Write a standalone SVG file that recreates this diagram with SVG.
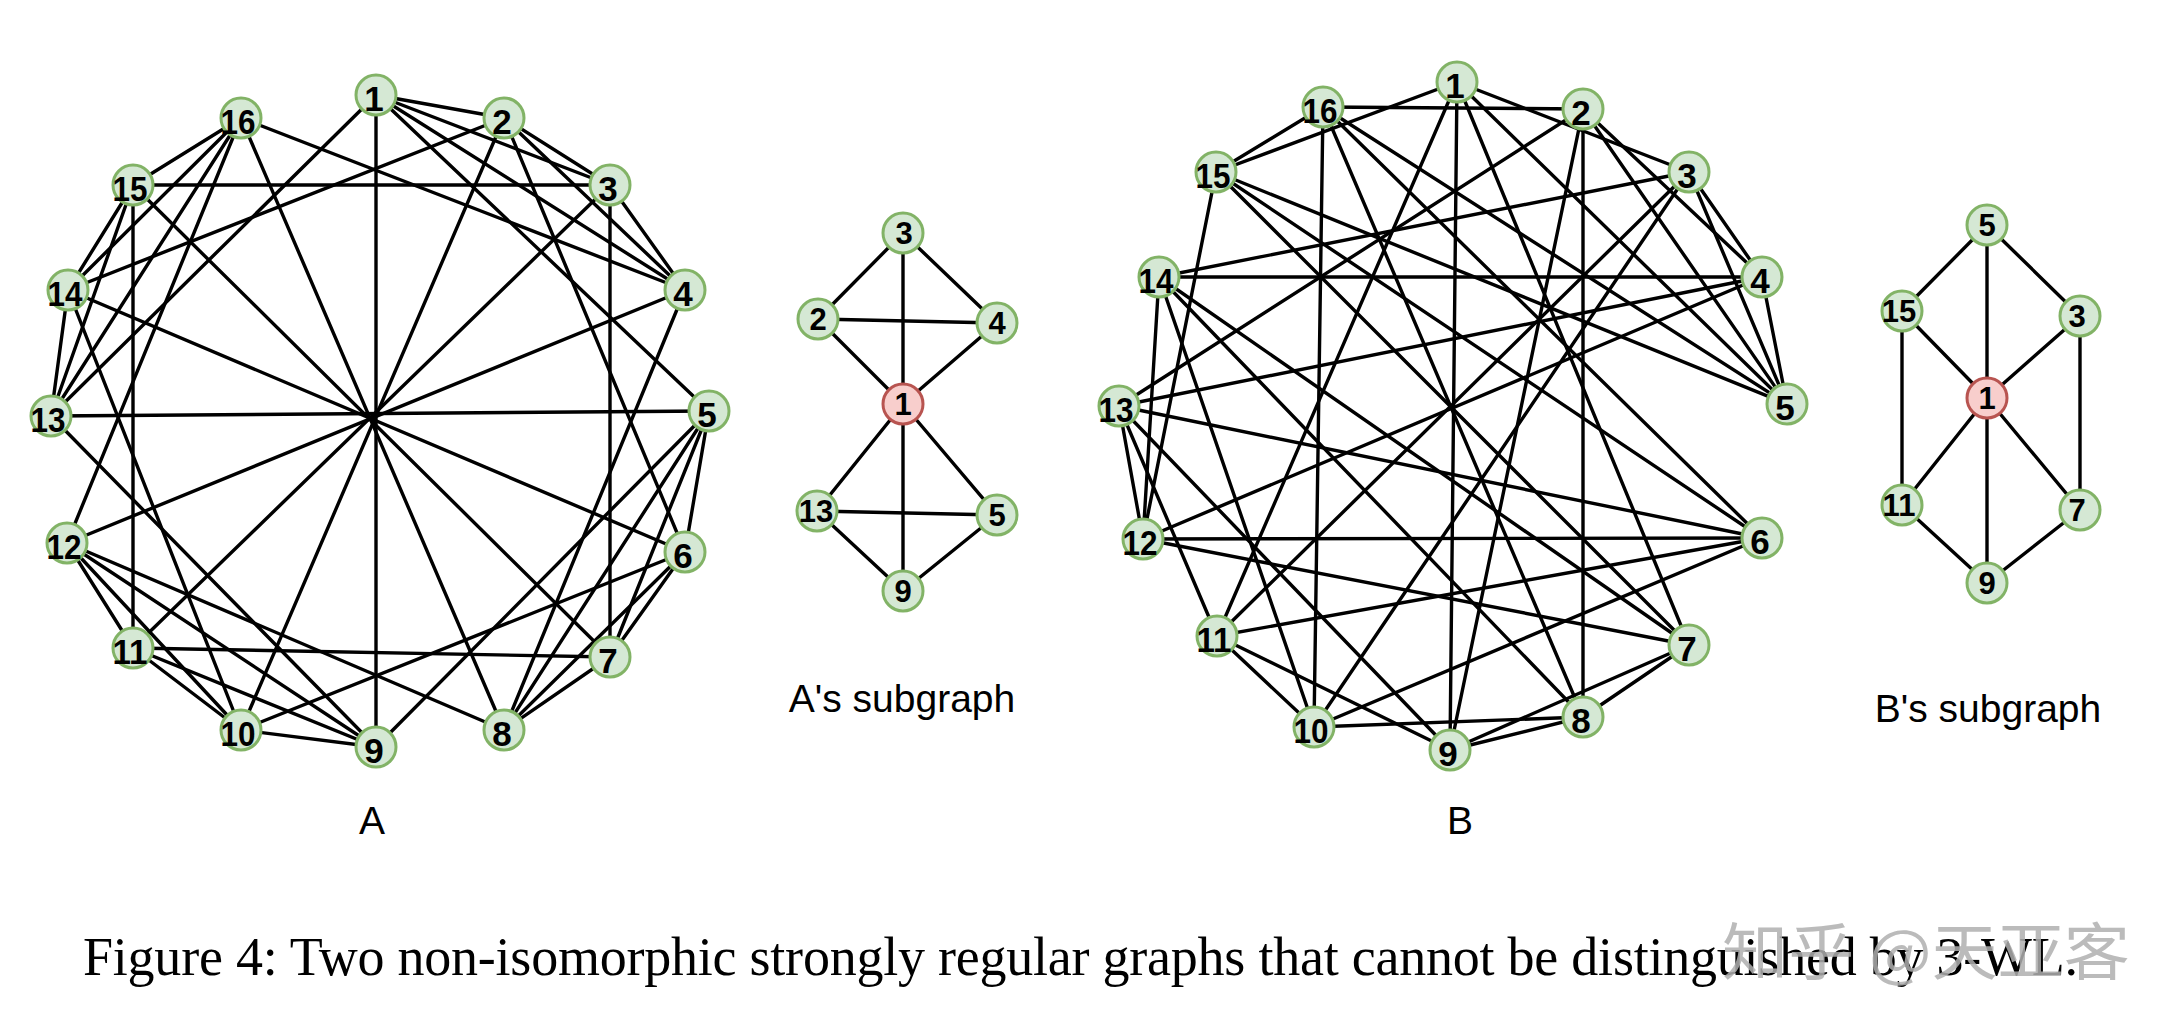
<svg xmlns="http://www.w3.org/2000/svg" width="2180" height="1036" viewBox="0 0 2180 1036">
<style>
.e{stroke:#000;stroke-width:3.4;fill:none;stroke-linecap:round}
.n circle{fill:#d5e8d4;stroke:#82b366;stroke-width:3}
.n.red circle{fill:#f8cecc;stroke:#b85450}
.n text{font-family:"Liberation Sans",Arial,sans-serif;font-weight:bold;font-size:35px;text-anchor:middle;fill:#000}
.s text{font-size:31px}
.lab{font-family:"Liberation Sans",Arial,sans-serif;font-size:39px;text-anchor:middle;fill:#000}
.cap{font-family:"Liberation Serif","Times New Roman",serif;font-size:54px;fill:#000}
.wm{font-family:"Noto Sans CJK SC","Liberation Sans",sans-serif;font-size:62px;fill:#b0b0b0;opacity:0.85}
</style>
<rect width="2180" height="1036" fill="#fff"/>
<g id="edges-A">
<line class="e" x1="376" y1="95" x2="504" y2="118"/>
<line class="e" x1="376" y1="95" x2="610" y2="185"/>
<line class="e" x1="376" y1="95" x2="685" y2="290"/>
<line class="e" x1="504" y1="118" x2="610" y2="185"/>
<line class="e" x1="504" y1="118" x2="685" y2="290"/>
<line class="e" x1="610" y1="185" x2="685" y2="290"/>
<line class="e" x1="709" y1="411" x2="685" y2="552"/>
<line class="e" x1="709" y1="411" x2="610" y2="657"/>
<line class="e" x1="709" y1="411" x2="504" y2="730"/>
<line class="e" x1="685" y1="552" x2="610" y2="657"/>
<line class="e" x1="685" y1="552" x2="504" y2="730"/>
<line class="e" x1="610" y1="657" x2="504" y2="730"/>
<line class="e" x1="376" y1="747" x2="241" y2="730"/>
<line class="e" x1="376" y1="747" x2="133" y2="648"/>
<line class="e" x1="376" y1="747" x2="67" y2="543"/>
<line class="e" x1="241" y1="730" x2="133" y2="648"/>
<line class="e" x1="241" y1="730" x2="67" y2="543"/>
<line class="e" x1="133" y1="648" x2="67" y2="543"/>
<line class="e" x1="51" y1="416" x2="68" y2="290"/>
<line class="e" x1="51" y1="416" x2="133" y2="185"/>
<line class="e" x1="51" y1="416" x2="241" y2="118"/>
<line class="e" x1="68" y1="290" x2="133" y2="185"/>
<line class="e" x1="68" y1="290" x2="241" y2="118"/>
<line class="e" x1="133" y1="185" x2="241" y2="118"/>
<line class="e" x1="376" y1="95" x2="709" y2="411"/>
<line class="e" x1="376" y1="95" x2="376" y2="747"/>
<line class="e" x1="376" y1="95" x2="51" y2="416"/>
<line class="e" x1="709" y1="411" x2="376" y2="747"/>
<line class="e" x1="709" y1="411" x2="51" y2="416"/>
<line class="e" x1="376" y1="747" x2="51" y2="416"/>
<line class="e" x1="504" y1="118" x2="685" y2="552"/>
<line class="e" x1="504" y1="118" x2="241" y2="730"/>
<line class="e" x1="504" y1="118" x2="68" y2="290"/>
<line class="e" x1="685" y1="552" x2="241" y2="730"/>
<line class="e" x1="685" y1="552" x2="68" y2="290"/>
<line class="e" x1="241" y1="730" x2="68" y2="290"/>
<line class="e" x1="610" y1="185" x2="610" y2="657"/>
<line class="e" x1="610" y1="185" x2="133" y2="648"/>
<line class="e" x1="610" y1="185" x2="133" y2="185"/>
<line class="e" x1="610" y1="657" x2="133" y2="648"/>
<line class="e" x1="610" y1="657" x2="133" y2="185"/>
<line class="e" x1="133" y1="648" x2="133" y2="185"/>
<line class="e" x1="685" y1="290" x2="504" y2="730"/>
<line class="e" x1="685" y1="290" x2="67" y2="543"/>
<line class="e" x1="685" y1="290" x2="241" y2="118"/>
<line class="e" x1="504" y1="730" x2="67" y2="543"/>
<line class="e" x1="504" y1="730" x2="241" y2="118"/>
<line class="e" x1="67" y1="543" x2="241" y2="118"/>
</g>
<g id="edges-Asub">
<line class="e" x1="903" y1="233" x2="818" y2="319"/>
<line class="e" x1="903" y1="233" x2="997" y2="323"/>
<line class="e" x1="903" y1="233" x2="903" y2="404"/>
<line class="e" x1="818" y1="319" x2="997" y2="323"/>
<line class="e" x1="818" y1="319" x2="903" y2="404"/>
<line class="e" x1="997" y1="323" x2="903" y2="404"/>
<line class="e" x1="903" y1="404" x2="817" y2="511"/>
<line class="e" x1="903" y1="404" x2="997" y2="515"/>
<line class="e" x1="903" y1="404" x2="903" y2="591"/>
<line class="e" x1="817" y1="511" x2="997" y2="515"/>
<line class="e" x1="817" y1="511" x2="903" y2="591"/>
<line class="e" x1="997" y1="515" x2="903" y2="591"/>
</g>
<g id="edges-B">
<line class="e" x1="1457" y1="82" x2="1216" y2="172"/>
<line class="e" x1="1457" y1="82" x2="1689" y2="172"/>
<line class="e" x1="1457" y1="82" x2="1450" y2="750"/>
<line class="e" x1="1457" y1="82" x2="1787" y2="404"/>
<line class="e" x1="1457" y1="82" x2="1689" y2="645"/>
<line class="e" x1="1457" y1="82" x2="1217" y2="636"/>
<line class="e" x1="1583" y1="109" x2="1323" y2="107"/>
<line class="e" x1="1583" y1="109" x2="1119" y2="406"/>
<line class="e" x1="1583" y1="109" x2="1450" y2="750"/>
<line class="e" x1="1583" y1="109" x2="1583" y2="717"/>
<line class="e" x1="1583" y1="109" x2="1762" y2="277"/>
<line class="e" x1="1583" y1="109" x2="1787" y2="404"/>
<line class="e" x1="1689" y1="172" x2="1762" y2="277"/>
<line class="e" x1="1689" y1="172" x2="1787" y2="404"/>
<line class="e" x1="1689" y1="172" x2="1159" y2="277"/>
<line class="e" x1="1689" y1="172" x2="1217" y2="636"/>
<line class="e" x1="1689" y1="172" x2="1314" y2="727"/>
<line class="e" x1="1762" y1="277" x2="1787" y2="404"/>
<line class="e" x1="1762" y1="277" x2="1159" y2="277"/>
<line class="e" x1="1762" y1="277" x2="1119" y2="406"/>
<line class="e" x1="1762" y1="277" x2="1143" y2="539"/>
<line class="e" x1="1787" y1="404" x2="1323" y2="107"/>
<line class="e" x1="1787" y1="404" x2="1216" y2="172"/>
<line class="e" x1="1762" y1="538" x2="1323" y2="107"/>
<line class="e" x1="1762" y1="538" x2="1216" y2="172"/>
<line class="e" x1="1762" y1="538" x2="1119" y2="406"/>
<line class="e" x1="1762" y1="538" x2="1143" y2="539"/>
<line class="e" x1="1762" y1="538" x2="1217" y2="636"/>
<line class="e" x1="1762" y1="538" x2="1314" y2="727"/>
<line class="e" x1="1689" y1="645" x2="1216" y2="172"/>
<line class="e" x1="1689" y1="645" x2="1143" y2="539"/>
<line class="e" x1="1689" y1="645" x2="1159" y2="277"/>
<line class="e" x1="1689" y1="645" x2="1450" y2="750"/>
<line class="e" x1="1689" y1="645" x2="1583" y2="717"/>
<line class="e" x1="1583" y1="717" x2="1323" y2="107"/>
<line class="e" x1="1583" y1="717" x2="1159" y2="277"/>
<line class="e" x1="1583" y1="717" x2="1450" y2="750"/>
<line class="e" x1="1583" y1="717" x2="1314" y2="727"/>
<line class="e" x1="1450" y1="750" x2="1217" y2="636"/>
<line class="e" x1="1450" y1="750" x2="1119" y2="406"/>
<line class="e" x1="1314" y1="727" x2="1323" y2="107"/>
<line class="e" x1="1314" y1="727" x2="1159" y2="277"/>
<line class="e" x1="1314" y1="727" x2="1217" y2="636"/>
<line class="e" x1="1217" y1="636" x2="1119" y2="406"/>
<line class="e" x1="1143" y1="539" x2="1119" y2="406"/>
<line class="e" x1="1143" y1="539" x2="1159" y2="277"/>
<line class="e" x1="1143" y1="539" x2="1216" y2="172"/>
<line class="e" x1="1216" y1="172" x2="1323" y2="107"/>
</g>
<g id="edges-Bsub">
<line class="e" x1="1987" y1="225" x2="1902" y2="311"/>
<line class="e" x1="1987" y1="225" x2="2080" y2="316"/>
<line class="e" x1="1987" y1="225" x2="1987" y2="398"/>
<line class="e" x1="1902" y1="311" x2="1987" y2="398"/>
<line class="e" x1="2080" y1="316" x2="1987" y2="398"/>
<line class="e" x1="1902" y1="311" x2="1902" y2="505"/>
<line class="e" x1="2080" y1="316" x2="2080" y2="510"/>
<line class="e" x1="1987" y1="398" x2="1902" y2="505"/>
<line class="e" x1="1987" y1="398" x2="2080" y2="510"/>
<line class="e" x1="1987" y1="398" x2="1987" y2="583"/>
<line class="e" x1="1902" y1="505" x2="1987" y2="583"/>
<line class="e" x1="2080" y1="510" x2="1987" y2="583"/>
</g>
<!-- Graph A nodes -->
<g id="A1" class="n"><circle cx="376" cy="95" r="20"/><text x="374" y="111">1</text></g>
<g id="A2" class="n"><circle cx="504" cy="118" r="20"/><text x="502" y="134">2</text></g>
<g id="A3" class="n"><circle cx="610" cy="185" r="20"/><text x="608" y="201">3</text></g>
<g id="A4" class="n"><circle cx="685" cy="290" r="20"/><text x="683" y="306">4</text></g>
<g id="A5" class="n"><circle cx="709" cy="411" r="20"/><text x="707" y="427">5</text></g>
<g id="A6" class="n"><circle cx="685" cy="552" r="20"/><text x="683" y="568">6</text></g>
<g id="A7" class="n"><circle cx="610" cy="657" r="20"/><text x="608" y="673">7</text></g>
<g id="A8" class="n"><circle cx="504" cy="730" r="20"/><text x="502" y="746">8</text></g>
<g id="A9" class="n"><circle cx="376" cy="747" r="20"/><text x="374" y="763">9</text></g>
<g id="A10" class="n"><circle cx="241" cy="730" r="20"/><text x="238" y="746" textLength="35" lengthAdjust="spacingAndGlyphs">10</text></g>
<g id="A11" class="n"><circle cx="133" cy="648" r="20"/><text x="130" y="664" textLength="35" lengthAdjust="spacingAndGlyphs">11</text></g>
<g id="A12" class="n"><circle cx="67" cy="543" r="20"/><text x="64" y="559" textLength="35" lengthAdjust="spacingAndGlyphs">12</text></g>
<g id="A13" class="n"><circle cx="51" cy="416" r="20"/><text x="48" y="432" textLength="35" lengthAdjust="spacingAndGlyphs">13</text></g>
<g id="A14" class="n"><circle cx="68" cy="290" r="20"/><text x="65" y="306" textLength="35" lengthAdjust="spacingAndGlyphs">14</text></g>
<g id="A15" class="n"><circle cx="133" cy="185" r="20"/><text x="130" y="201" textLength="35" lengthAdjust="spacingAndGlyphs">15</text></g>
<g id="A16" class="n"><circle cx="241" cy="118" r="20"/><text x="238" y="134" textLength="35" lengthAdjust="spacingAndGlyphs">16</text></g>
<!-- A's subgraph nodes -->
<g id="As3" class="n s"><circle cx="903" cy="233" r="20"/><text x="904" y="244">3</text></g>
<g id="As2" class="n s"><circle cx="818" cy="319" r="20"/><text x="818" y="330">2</text></g>
<g id="As4" class="n s"><circle cx="997" cy="323" r="20"/><text x="997" y="334">4</text></g>
<g id="As1" class="n s red"><circle cx="903" cy="404" r="20"/><text x="903" y="415">1</text></g>
<g id="As13" class="n s"><circle cx="817" cy="511" r="20"/><text x="816" y="522">13</text></g>
<g id="As5" class="n s"><circle cx="997" cy="515" r="20"/><text x="997" y="526">5</text></g>
<g id="As9" class="n s"><circle cx="903" cy="591" r="20"/><text x="903" y="602">9</text></g>
<!-- Graph B nodes -->
<g id="B1" class="n"><circle cx="1457" cy="82" r="20"/><text x="1455" y="98">1</text></g>
<g id="B2" class="n"><circle cx="1583" cy="109" r="20"/><text x="1581" y="125">2</text></g>
<g id="B3" class="n"><circle cx="1689" cy="172" r="20"/><text x="1687" y="188">3</text></g>
<g id="B4" class="n"><circle cx="1762" cy="277" r="20"/><text x="1760" y="293">4</text></g>
<g id="B5" class="n"><circle cx="1787" cy="404" r="20"/><text x="1785" y="420">5</text></g>
<g id="B6" class="n"><circle cx="1762" cy="538" r="20"/><text x="1760" y="554">6</text></g>
<g id="B7" class="n"><circle cx="1689" cy="645" r="20"/><text x="1687" y="661">7</text></g>
<g id="B8" class="n"><circle cx="1583" cy="717" r="20"/><text x="1581" y="733">8</text></g>
<g id="B9" class="n"><circle cx="1450" cy="750" r="20"/><text x="1448" y="766">9</text></g>
<g id="B10" class="n"><circle cx="1314" cy="727" r="20"/><text x="1311" y="743" textLength="35" lengthAdjust="spacingAndGlyphs">10</text></g>
<g id="B11" class="n"><circle cx="1217" cy="636" r="20"/><text x="1214" y="652" textLength="35" lengthAdjust="spacingAndGlyphs">11</text></g>
<g id="B12" class="n"><circle cx="1143" cy="539" r="20"/><text x="1140" y="555" textLength="35" lengthAdjust="spacingAndGlyphs">12</text></g>
<g id="B13" class="n"><circle cx="1119" cy="406" r="20"/><text x="1116" y="422" textLength="35" lengthAdjust="spacingAndGlyphs">13</text></g>
<g id="B14" class="n"><circle cx="1159" cy="277" r="20"/><text x="1156" y="293" textLength="35" lengthAdjust="spacingAndGlyphs">14</text></g>
<g id="B15" class="n"><circle cx="1216" cy="172" r="20"/><text x="1213" y="188" textLength="35" lengthAdjust="spacingAndGlyphs">15</text></g>
<g id="B16" class="n"><circle cx="1323" cy="107" r="20"/><text x="1320" y="123" textLength="35" lengthAdjust="spacingAndGlyphs">16</text></g>
<!-- B's subgraph nodes -->
<g id="Bs5" class="n s"><circle cx="1987" cy="225" r="20"/><text x="1987" y="236">5</text></g>
<g id="Bs15" class="n s"><circle cx="1902" cy="311" r="20"/><text x="1899" y="322">15</text></g>
<g id="Bs3" class="n s"><circle cx="2080" cy="316" r="20"/><text x="2077" y="327">3</text></g>
<g id="Bs1" class="n s red"><circle cx="1987" cy="398" r="20"/><text x="1987" y="409">1</text></g>
<g id="Bs11" class="n s"><circle cx="1902" cy="505" r="20"/><text x="1899" y="516">11</text></g>
<g id="Bs7" class="n s"><circle cx="2080" cy="510" r="20"/><text x="2077" y="521">7</text></g>
<g id="Bs9" class="n s"><circle cx="1987" cy="583" r="20"/><text x="1987" y="594">9</text></g>
<g id="labels">
<text class="lab" x="372" y="834">A</text>
<text class="lab" x="1460" y="834">B</text>
<text class="lab" x="902" y="712">A's subgraph</text>
<text class="lab" x="1988" y="722">B's subgraph</text>
</g>
<text class="cap" x="83" y="975" textLength="1995" lengthAdjust="spacing">Figure 4: Two non-isomorphic strongly regular graphs that cannot be distinguished by 3-WL.</text>
<text class="wm" x="1722" y="975" textLength="408" lengthAdjust="spacingAndGlyphs">知乎 @天亚客</text>
</svg>
